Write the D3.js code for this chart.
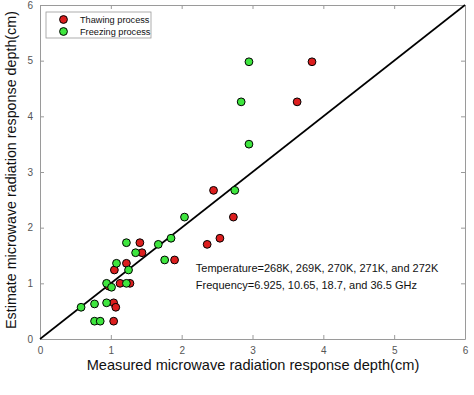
<!DOCTYPE html>
<html>
<head>
<meta charset="utf-8">
<script src="https://cdn.jsdelivr.net/npm/d3@7"></script>
<style>
  body { margin: 0; background: #fff; }
  svg { font-family: "Liberation Sans", Arial, sans-serif; }
</style>
</head>
<body>
<script>
// measured depth (x) vs estimated depth (y), in cm
const thawX = [1.04, 1.04, 1.07, 0.97, 1.13, 1.27, 1.05, 1.22, 1.41, 1.44, 1.90, 2.36, 2.54, 2.45, 2.73, 3.84, 3.63];
const thawY = [0.32, 0.65, 0.57, 0.95, 1.00, 1.00, 1.24, 1.36, 1.73, 1.55, 1.42, 1.70, 1.81, 2.67, 2.19, 4.98, 4.26];
const freezeX = [0.58, 0.77, 0.77, 0.85, 0.94, 0.94, 1.01, 1.08, 1.22, 1.25, 1.22, 1.35, 1.67, 1.76, 1.85, 2.04, 2.75, 2.95, 2.84, 2.95];
const freezeY = [0.57, 0.63, 0.32, 0.32, 0.65, 1.00, 0.93, 1.36, 1.73, 1.24, 1.00, 1.55, 1.70, 1.42, 1.81, 2.19, 2.67, 4.98, 4.26, 3.50];
const ticks = [0, 1, 2, 3, 4, 5, 6];
const seriesNames = ["Thawing process", "Freezing process"];
const notes = ["Temperature=268K, 269K, 270K, 271K, and 272K", "Frequency=6.925, 10.65, 18.7, and 36.5 GHz"];

const margin = {top: 5, right: 9, bottom: 56, left: 40},
    width = 474 - margin.left - margin.right,
    height = 395 - margin.top - margin.bottom;

const colors = {thaw: "#dc1e1e", freeze: "#3ee63e"};

const svg = d3.select("body").append("svg")
    .attr("width", 474)
    .attr("height", 395)
  .append("g")
    .attr("transform", "translate(" + margin.left + "," + margin.top + ")");

const x = d3.scaleLinear().domain([0, 6]).range([0, width]);
const y = d3.scaleLinear().domain([0, 6]).range([height, 0]);
const fmt = d3.format("d");

// box with inward ticks on all four sides
function styleAxis(g) {
  g.select(".domain").attr("stroke", "#9a9a9a");
  g.selectAll(".tick line").attr("stroke", "#9a9a9a");
  g.selectAll(".tick text").attr("fill", "#555").style("font-size", "10px");
}

svg.append("g")
  .attr("transform", "translate(0," + height + ")")
  .call(d3.axisBottom(x).tickValues(ticks).tickFormat(fmt).tickSize(-4).tickPadding(8).tickSizeOuter(0))
  .call(styleAxis);
svg.append("g")
  .call(d3.axisTop(x).tickValues(ticks).tickSize(-4).tickFormat("").tickSizeOuter(0))
  .call(styleAxis);
svg.append("g")
  .call(d3.axisLeft(y).tickValues(ticks).tickFormat(fmt).tickSize(-4).tickPadding(7).tickSizeOuter(0))
  .call(styleAxis);
svg.append("g")
  .attr("transform", "translate(" + width + ",0)")
  .call(d3.axisRight(y).tickValues(ticks).tickSize(-4).tickFormat("").tickSizeOuter(0))
  .call(styleAxis);

// 1:1 line
svg.append("line")
  .attr("x1", x(0)).attr("y1", y(0))
  .attr("x2", x(6)).attr("y2", y(6))
  .attr("stroke", "#000")
  .attr("stroke-width", 1.6);

function drawPoints(xs, ys, fill) {
  svg.append("g").selectAll("circle")
    .data(xs.map((v, i) => [v, ys[i]]))
    .enter().append("circle")
    .attr("cx", d => x(d[0]))
    .attr("cy", d => y(d[1]))
    .attr("r", 3.9)
    .attr("fill", fill)
    .attr("stroke", "#000")
    .attr("stroke-width", 1);
}
drawPoints(thawX, thawY, colors.thaw);
drawPoints(freezeX, freezeY, colors.freeze);

// notes
svg.selectAll(".note")
  .data(notes)
  .enter().append("text")
  .attr("class", "note")
  .attr("x", x(2.2))
  .attr("y", (d, i) => y(1.2) + i * 16.5)
  .style("font-size", "11px")
  .attr("fill", "#111")
  .text(d => d);

// legend
const legend = svg.append("g").attr("transform", "translate(6,7)");
legend.append("rect")
  .attr("width", 105)
  .attr("height", 26)
  .attr("fill", "#fff")
  .attr("stroke", "#9a9a9a")
  .attr("stroke-width", 0.8);
const items = legend.selectAll(".item")
  .data(seriesNames)
  .enter().append("g")
  .attr("transform", (d, i) => "translate(0," + (7.5 + i * 12) + ")");
items.append("circle")
  .attr("cx", 17.5)
  .attr("r", 3.9)
  .attr("fill", (d, i) => i === 0 ? colors.thaw : colors.freeze)
  .attr("stroke", "#000");
items.append("text")
  .attr("x", 34)
  .attr("dy", "0.35em")
  .style("font-size", "9.2px")
  .attr("fill", "#111")
  .text(d => d);

// axis titles
svg.append("text")
  .attr("x", width / 2 + 0.5)
  .attr("y", height + 31)
  .attr("text-anchor", "middle")
  .style("font-size", "14.6px")
  .attr("fill", "#111")
  .text("Measured microwave radiation response depth(cm)");

svg.append("text")
  .attr("transform", "rotate(-90)")
  .attr("x", -height / 2 + 2)
  .attr("y", -24)
  .attr("text-anchor", "middle")
  .style("font-size", "14.3px")
  .attr("fill", "#111")
  .text("Estimate microwave radiation response depth(cm)");
</script>
</body>
</html>
